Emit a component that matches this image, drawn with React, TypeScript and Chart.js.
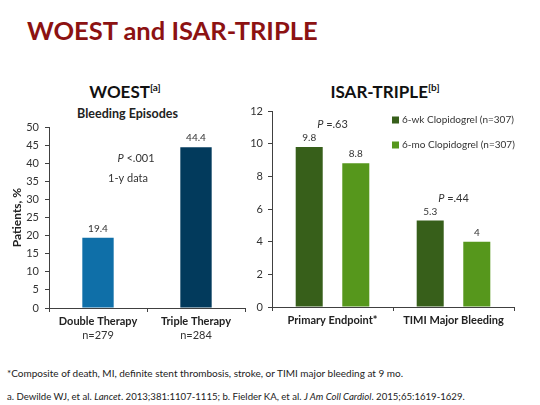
import { useEffect, useRef } from "react"
import { Chart, registerables, type Plugin } from "chart.js"

Chart.register(...registerables)

const FONT = "Lato, 'Open Sans', sans-serif"
const TEXT = "#333333"
const AXIS = "#404040"

// WOEST
const woestCategories = ["Double Therapy", "Triple Therapy"]
const woestN = ["n=279", "n=284"]
const woestValues = [19.4, 44.4]
const woestColors = ["#0f6fa8", "#023a5c"]
const woestMax = 50
const woestStep = 5

// ISAR-TRIPLE
const isarCategories = ["Primary Endpoint*", "TIMI Major Bleeding"]
const isarSeries = ["6-wk Clopidogrel (n=307)", "6-mo Clopidogrel (n=307)"]
const sixWeekValues = [9.8, 5.3]
const sixMonthValues = [8.8, 4]
const isarColors = ["#375f1a", "#56971c"]
const isarPValues = [" =.63", " =.44"]
const isarMax = 12
const isarStep = 2

// value labels above each bar
const valueLabels: Plugin = {
  id: "valueLabels",
  afterDatasetsDraw(chart) {
    const ctx = chart.ctx
    ctx.save()
    ctx.font = `10px ${FONT}`
    ctx.fillStyle = TEXT
    ctx.textAlign = "center"
    ctx.textBaseline = "middle"
    chart.data.datasets.forEach((ds, di) => {
      chart.getDatasetMeta(di).data.forEach((el: any, i) => {
        ctx.fillText(String(ds.data[i]), el.x, el.y - 9)
      })
    })
    ctx.restore()
  },
}

// draws "P" in italic followed by normal text, centred at x
function drawP(ctx: CanvasRenderingContext2D, rest: string, x: number, y: number) {
  ctx.font = `italic 11px ${FONT}`
  const wP = ctx.measureText("P").width
  ctx.font = `11px ${FONT}`
  const wR = ctx.measureText(rest).width
  const start = x - (wP + wR) / 2
  ctx.textAlign = "left"
  ctx.font = `italic 11px ${FONT}`
  ctx.fillText("P", start, y)
  ctx.font = `11px ${FONT}`
  ctx.fillText(rest, start + wP, y)
}

const woestNotes: Plugin = {
  id: "woestNotes",
  afterDraw(chart) {
    const ctx = chart.ctx
    const x = chart.scales.x
    const y = chart.scales.y
    ctx.save()
    ctx.fillStyle = TEXT
    ctx.textBaseline = "middle"
    ctx.textAlign = "center"
    ctx.font = `11px ${FONT}`
    woestN.forEach((n, i) => ctx.fillText(n, x.getPixelForValue(i), x.top + 27))
    const mid = (x.getPixelForValue(0) + x.getPixelForValue(1)) / 2
    const top = y.getPixelForValue(Math.max(...woestValues))
    drawP(ctx, " <.001", mid - 11, top + 11)
    ctx.textAlign = "center"
    ctx.font = `11px ${FONT}`
    ctx.fillText("1-y data", mid - 19, top + 31)
    ctx.restore()
  },
}

const isarNotes: Plugin = {
  id: "isarNotes",
  afterDraw(chart) {
    const ctx = chart.ctx
    const x = chart.scales.x
    const y = chart.scales.y
    const area = chart.chartArea
    ctx.save()
    ctx.fillStyle = TEXT
    ctx.textBaseline = "middle"
    isarPValues.forEach((p, i) => {
      const top = y.getPixelForValue(Math.max(sixWeekValues[i], sixMonthValues[i]))
      drawP(ctx, p, x.getPixelForValue(i), top - 22)
    })
    // legend
    ctx.font = `10px ${FONT}`
    ctx.textAlign = "left"
    isarSeries.forEach((s, i) => {
      const ly = area.top + 9 + i * 25
      ctx.fillStyle = isarColors[i]
      ctx.fillRect(area.left + 120, ly - 3.5, 7, 7)
      ctx.fillStyle = TEXT
      ctx.fillText(s, area.left + 130, ly)
    })
    ctx.restore()
  },
}

function axisStyle() {
  return {
    grid: { drawOnChartArea: false, drawTicks: true, tickLength: 4, color: AXIS },
    border: { color: AXIS, width: 1 },
  }
}

function WoestChart() {
  const ref = useRef<HTMLCanvasElement>(null)
  useEffect(() => {
    if (!ref.current) return
    const chart = new Chart(ref.current, {
      type: "bar",
      data: {
        labels: woestCategories,
        datasets: [
          {
            data: woestValues,
            backgroundColor: woestColors,
            categoryPercentage: 1,
            barPercentage: 0.32,
          },
        ],
      },
      options: {
        animation: false,
        responsive: true,
        maintainAspectRatio: false,
        layout: { padding: { top: 127, right: 10, left: 0, bottom: 0 } },
        plugins: { legend: { display: false }, tooltip: { enabled: false } },
        scales: {
          x: {
            ...axisStyle(),
            ticks: { color: "#222", font: { family: FONT, size: 11, weight: "bold" }, padding: 3 },
            afterFit: (s: any) => { s.height = 37 },
          },
          y: {
            ...axisStyle(),
            min: 0,
            max: woestMax,
            ticks: { stepSize: woestStep, color: TEXT, font: { family: FONT, size: 11 }, padding: 6 },
            title: {
              display: true,
              text: "Patients, %",
              color: "#222",
              font: { family: FONT, size: 12, weight: "bold" },
              padding: { top: 10, bottom: 0 },
            },
            afterFit: (s: any) => { s.width = 49 },
          },
        },
      },
      plugins: [valueLabels, woestNotes],
    })
    return () => chart.destroy()
  }, [])
  return (
    <div style={{ position: "absolute", left: 0, top: 0, width: 255, height: 345 }}>
      <canvas ref={ref} />
    </div>
  )
}

function IsarChart() {
  const ref = useRef<HTMLCanvasElement>(null)
  useEffect(() => {
    if (!ref.current) return
    const chart = new Chart(ref.current, {
      type: "bar",
      data: {
        labels: isarCategories,
        datasets: [
          { label: isarSeries[0], data: sixWeekValues, backgroundColor: isarColors[0] },
          { label: isarSeries[1], data: sixMonthValues, backgroundColor: isarColors[1] },
        ].map((d) => ({ ...d, categoryPercentage: 0.77, barPercentage: 0.58 })),
      },
      options: {
        animation: false,
        responsive: true,
        maintainAspectRatio: false,
        layout: { padding: { top: 111, right: 26, left: 0, bottom: 0 } },
        plugins: { legend: { display: false }, tooltip: { enabled: false } },
        scales: {
          x: {
            ...axisStyle(),
            ticks: { color: "#222", font: { family: FONT, size: 11, weight: "bold" }, padding: 3 },
            afterFit: (s: any) => { s.height = 38 },
          },
          y: {
            ...axisStyle(),
            min: 0,
            max: isarMax,
            ticks: { stepSize: isarStep, color: TEXT, font: { family: FONT, size: 11 }, padding: 5 },
            afterFit: (s: any) => { s.width = 22 },
          },
        },
      },
      plugins: [valueLabels, isarNotes],
    })
    return () => chart.destroy()
  }, [])
  return (
    <div style={{ position: "absolute", left: 250, top: 0, width: 290, height: 345 }}>
      <canvas ref={ref} />
    </div>
  )
}

const abs = (style: React.CSSProperties): React.CSSProperties => ({
  position: "absolute",
  lineHeight: 1,
  whiteSpace: "nowrap",
  ...style,
})

export default function App() {
  return (
    <div
      style={{
        position: "fixed",
        left: 0,
        top: 0,
        width: 540,
        height: 405,
        background: "#fff",
        fontFamily: FONT,
        color: "#222",
        overflow: "hidden",
      }}
    >
      <div style={abs({ left: 27, top: 18, fontSize: 25.5, fontWeight: "bold", color: "#8c1212" })}>
        WOEST and ISAR-TRIPLE
      </div>
      <div style={abs({ left: 0, width: 250, top: 82, textAlign: "center", fontSize: 17, fontWeight: "bold", color: "#111" })}>
        WOEST<sup style={{ fontSize: 10 }}>[a]</sup>
      </div>
      <div style={abs({ left: 0, width: 255, top: 108, textAlign: "center", fontSize: 12.5, fontWeight: "bold" })}>
        Bleeding Episodes
      </div>
      <div style={abs({ left: 270, width: 230, top: 82, textAlign: "center", fontSize: 17, fontWeight: "bold", color: "#111" })}>
        ISAR-TRIPLE<sup style={{ fontSize: 10 }}>[b]</sup>
      </div>
      <WoestChart />
      <IsarChart />
      <div style={abs({ left: 7, top: 368, fontSize: 10 })}>
        *Composite of death, MI, definite stent thrombosis, stroke, or TIMI major bleeding at 9 mo.
      </div>
      <div style={abs({ left: 7, top: 392, fontSize: 9.6 })}>
        a. Dewilde WJ, et al. <i>Lancet</i>. 2013;381:1107-1115; b. Fielder KA, et al. <i>J Am Coll Cardiol</i>.
        2015;65:1619-1629.
      </div>
    </div>
  )
}
